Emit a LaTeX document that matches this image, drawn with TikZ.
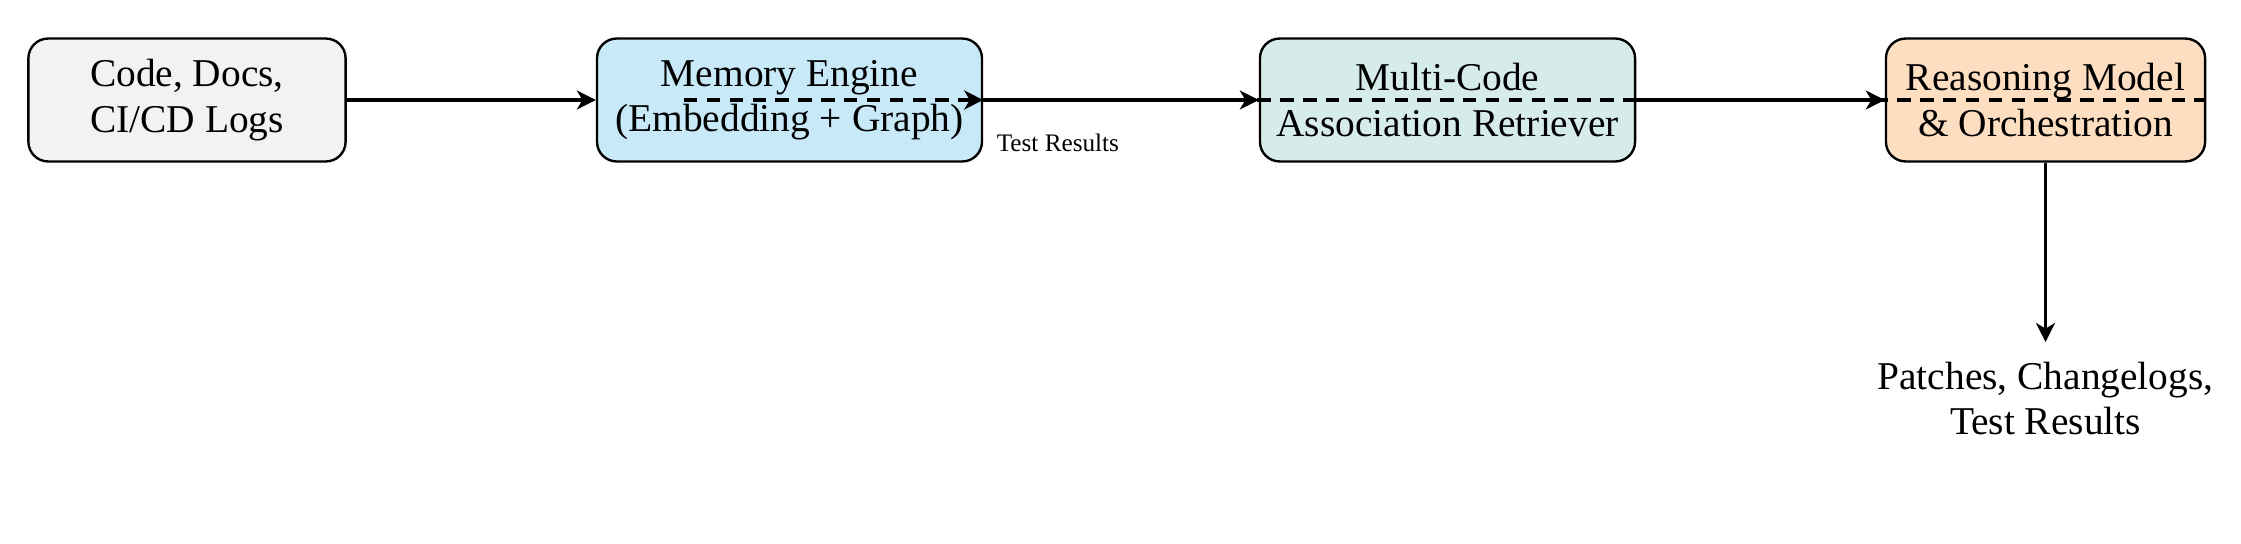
\documentclass[tikz,border=0pt]{standalone}
\usepackage{fontspec}
\setmainfont{Liberation Serif}
\usetikzlibrary{arrows.meta}
\definecolor{cinput}{HTML}{F2F2F2}
\definecolor{cmem}{HTML}{C8E9F8}
\definecolor{cret}{HTML}{D6ECEA}
\definecolor{creas}{HTML}{FEDEC0}
\begin{document}
\begin{tikzpicture}[x=0.2538pt,y=-0.2538pt,
  box/.style={draw, line width=0.6pt, rounded corners=5pt, align=center, inner sep=0pt,
    minimum height=31.2pt, font=\fontsize{10}{11.5}\selectfont},
  tip/.style={-{Stealth[length=4.8pt,width=4.8pt,inset=1.4pt]}},
  flow/.style={line width=1pt, tip},
  fb/.style={line width=1pt, dash pattern=on 3.4pt off 2.4pt},
  lbl/.style={font=\fontsize{6.4}{8}\selectfont, inner sep=0pt}]
\useasboundingbox (0,0) rectangle (2241,544);
\node[box, fill=cinput, minimum width=80.5pt] (in) at (187,100) {Code, Docs,\\CI/CD Logs};
\node[box, fill=cmem, minimum width=97.7pt] (mem) at (789.5,100) {Memory Engine\\(Embedding + Graph)};
\node[box, fill=cret, minimum width=95.2pt] (ret) at (1447.5,100) {Multi-Code\\Association Retriever};
\node[box, fill=creas, minimum width=81pt] (reas) at (2045.5,100) {Reasoning Model\\\& Orchestration};
\node[align=center, inner xsep=0pt, inner ysep=4.8pt, font=\fontsize{10}{11.5}\selectfont, anchor=north] (out) at (2045.5,342) {Patches, Changelogs,\\Test Results};
\coordinate (ds) at (684,100);
\draw[flow] (in) -- (mem);
\draw[flow] (mem) -- (ret);
\draw[flow] (ret) -- (reas);
\draw[flow] (reas) -- (out);
\draw[fb] (mem.east) -- (reas.east);
\draw[fb, tip] (ds) -- (mem.east);
\node[lbl, anchor=west] (tr) at (996,143) {Test Results};
\end{tikzpicture}
\end{document}
